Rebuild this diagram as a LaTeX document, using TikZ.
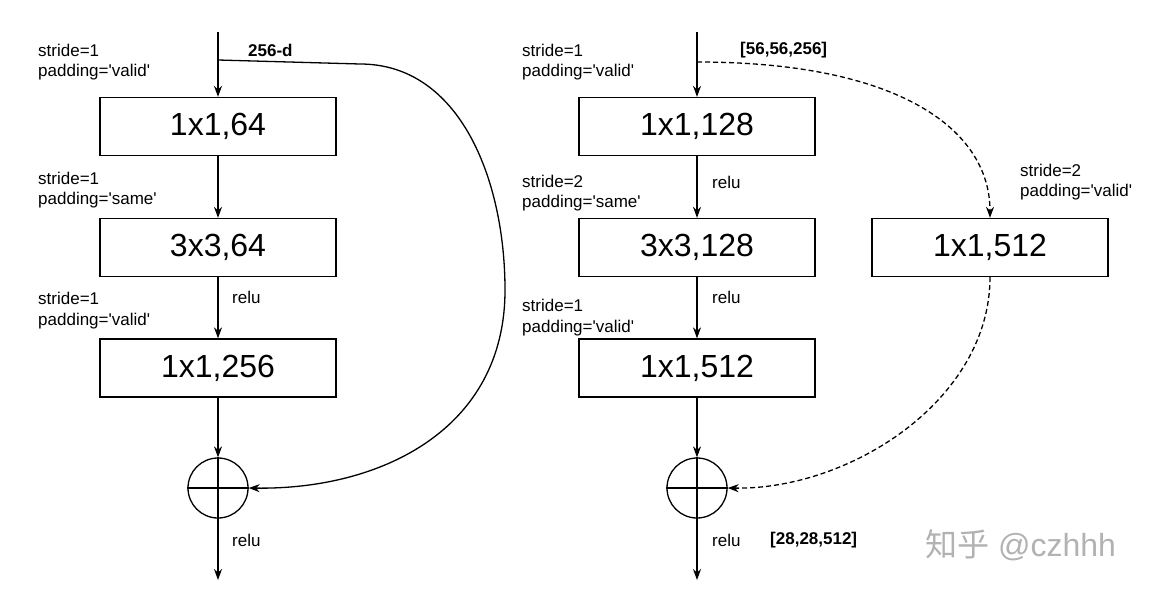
\documentclass[tikz,border=0pt]{standalone}
\usepackage{fontspec}
\setmainfont{Liberation Sans}
\newfontfamily\cjk{Noto Sans CJK SC}
\usetikzlibrary{arrows.meta}
\newcommand{\sq}{\textquotesingle}
\begin{document}
\begin{tikzpicture}[x=1pt,y=-1pt,
  box/.style={draw,line width=1.3pt,minimum width=236pt,minimum height=58pt,font=\fontsize{32}{34}\selectfont,inner sep=0pt},
  lab/.style={anchor=west,font=\fontsize{17}{19}\selectfont,inner sep=0pt},
  blab/.style={lab,font=\fontsize{17}{19}\selectfont\bfseries},
  sum/.style={draw,line width=1.3pt,circle,minimum size=60pt,inner sep=0pt},
  arr/.style={line width=1.3pt,-{Stealth[length=11pt,width=8pt]}},
  dsh/.style={arr,dash pattern=on 5pt off 3pt}]
\useasboundingbox (0,0) rectangle (1166,594);
% left column
\coordinate (lt) at (218,32);
\node[box] (a1) at (218,126.5) {1x1,64};
\node[box] (a2) at (218,247.5) {3x3,64};
\node[box] (a3) at (218,368) {1x1,256};
\node[sum] (as) at (218,488) {};
\draw[line width=1.3pt] (as.north)--(as.south) (as.west)--(as.east);
\coordinate (lb) at (218,580);
\coordinate (lsplit) at (218,60);
\draw[arr] (lt)--(a1);
\draw[arr] (a1)--(a2);
\draw[arr] (a2)--(a3);
\draw[arr] (a3)--(as);
\draw[arr] (as)--(lb);
\draw[arr] (lsplit) -- (360,64) .. controls (460,64) and (505,180) .. (505,290)
  .. controls (505,430) and (380,490) .. (as.east);
\node[lab] at (38,50) {stride=1};
\node[lab] at (38,72) {padding=\sq valid\sq};
\node[blab] at (248,50) {256-d};
\node[lab] at (38,178) {stride=1};
\node[lab] at (38,200) {padding=\sq same\sq};
\node[lab] at (38,298) {stride=1};
\node[lab] at (38,321) {padding=\sq valid\sq};
\node[lab] at (232,297) {relu};
\node[lab] at (232,540) {relu};
% right column
\coordinate (rt) at (697,32);
\node[box] (b1) at (697,126.5) {1x1,128};
\node[box] (b2) at (697,247.5) {3x3,128};
\node[box] (b3) at (697,368) {1x1,512};
\node[box] (b4) at (990,247.5) {1x1,512};
\node[sum] (bs) at (697,488) {};
\draw[line width=1.3pt] (bs.north)--(bs.south) (bs.west)--(bs.east);
\coordinate (rb) at (697,580);
\coordinate (rsplit) at (697,62);
\draw[arr] (rt)--(b1);
\draw[arr] (b1)--(b2);
\draw[arr] (b2)--(b3);
\draw[arr] (b3)--(bs);
\draw[arr] (bs)--(rb);
\draw[dsh] (rsplit) .. controls (900,62) and (990,130) .. (b4.north);
\draw[dsh] (b4.south) .. controls (990,400) and (850,490) .. (bs.east);
\node[lab] at (522,50) {stride=1};
\node[lab] at (522,72) {padding=\sq valid\sq};
\node[blab] at (740,50) {[56,56,256]};
\node[lab] at (712,182) {relu};
\node[lab] at (522,181) {stride=2};
\node[lab] at (522,203) {padding=\sq same\sq};
\node[lab] at (712,297) {relu};
\node[lab] at (522,305) {stride=1};
\node[lab] at (522,328) {padding=\sq valid\sq};
\node[lab] at (1020,170) {stride=2};
\node[lab] at (1020,192) {padding=\sq valid\sq};
\node[lab] at (712,540) {relu};
\node[blab] at (770,540) {[28,28,512]};
\node[anchor=west,inner sep=0pt,text=black!30,font=\fontsize{32}{34}\selectfont] (wm) at (925,545) {{\cjk 知乎} @czhhh};
\end{tikzpicture}
\end{document}
